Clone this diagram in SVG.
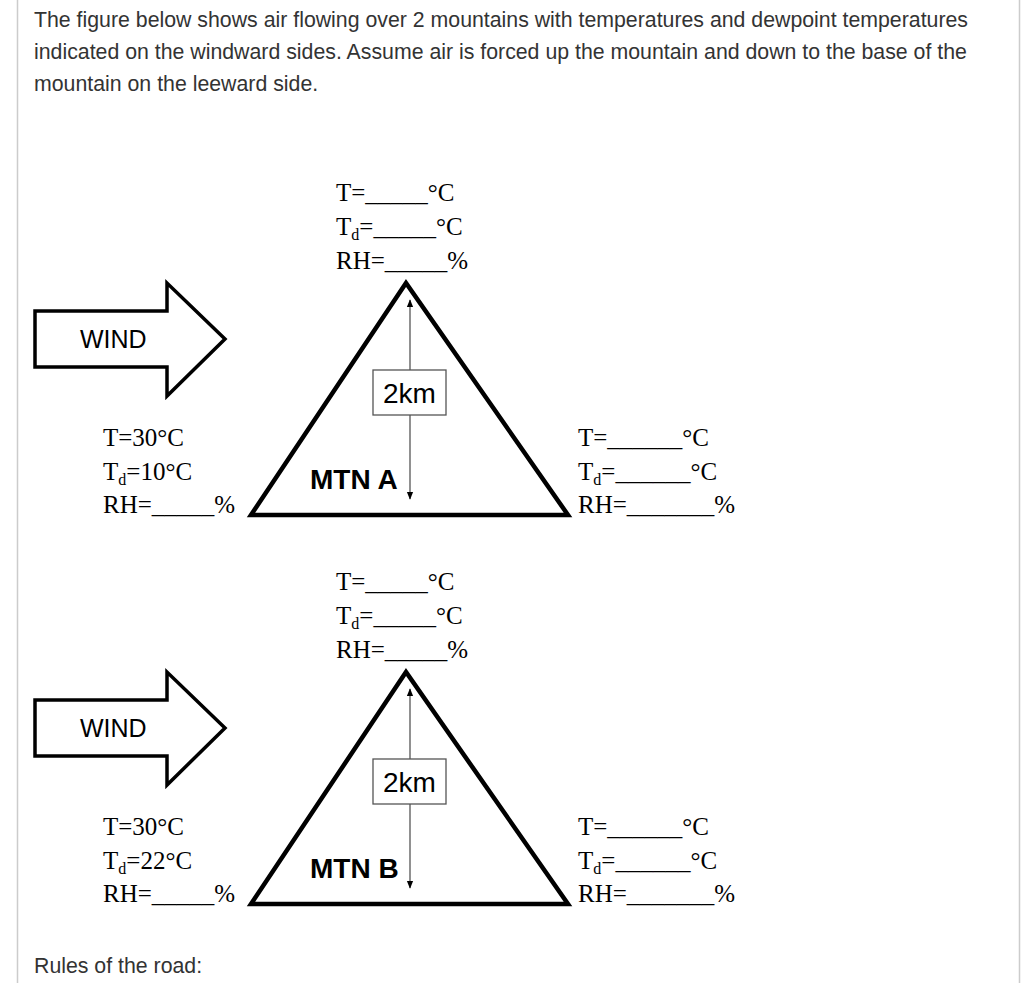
<svg xmlns="http://www.w3.org/2000/svg" width="1024" height="983" viewBox="0 0 1024 983">
<style>
.h{font-family:"Liberation Sans",Arial,sans-serif;font-size:21.3px;fill:#333}
.s{font-family:"Liberation Serif","Times New Roman",serif;font-size:25px;fill:#000}
.a{font-family:"Liberation Sans",Arial,sans-serif;font-size:25px;fill:#000}
.k{font-family:"Liberation Sans",Arial,sans-serif;font-size:28px;fill:#000}
.b{font-family:"Liberation Sans",Arial,sans-serif;font-size:28px;font-weight:bold;fill:#000}
.sub{font-size:16px}
.mt{fill:#fff;stroke:#000;stroke-width:4.5;stroke-linejoin:miter}
.ar{fill:#fff;stroke:#000;stroke-width:3.5}
.dim{stroke:#555;stroke-width:1.3}
</style>
<defs>
<marker id="ah" viewBox="0 0 10 10" refX="9" refY="5" markerWidth="6" markerHeight="7" orient="auto"><path d="M0,1 L10,5 L0,9 Z" fill="#000"/></marker>
</defs>
<rect width="1024" height="983" fill="#fff"/>
<line x1="17.5" y1="0" x2="17.5" y2="983" stroke="#ccc" stroke-width="1.5"/>
<line x1="1019.5" y1="0" x2="1019.5" y2="983" stroke="#ccc" stroke-width="1.5"/>
<g id="header">
<text class="h" x="34" y="27">The figure below shows air flowing over 2 mountains with temperatures and dewpoint temperatures</text>
<text class="h" x="34" y="59">indicated on the windward sides. Assume air is forced up the mountain and down to the base of the</text>
<text class="h" x="34" y="91">mountain on the leeward side.</text>
</g>
<g id="mtnA">
<polygon class="ar" points="35,311 167,311 167,283 225,339 167,396 167,367 35,367"/>
<text class="a" x="80" y="348">WIND</text>
<polygon class="mt" points="406,283 251,515 568,515"/>
<line class="dim" x1="410" y1="370" x2="410" y2="300" marker-end="url(#ah)"/>
<line class="dim" x1="410" y1="415" x2="410" y2="499" marker-end="url(#ah)"/>
<rect x="373" y="370" width="73" height="45" fill="#fff" stroke="#555" stroke-width="1.3"/>
<text class="k" x="409.5" y="403" text-anchor="middle">2km</text>
<text class="s" x="336" y="201">T=_____°C</text>
<text class="s" x="336" y="235">T<tspan class="sub" dy="5">d</tspan><tspan dy="-5">=_____°C</tspan></text>
<text class="s" x="336" y="269">RH=_____%</text>
<text class="s" x="103" y="446">T=30°C</text>
<text class="s" x="103" y="480">T<tspan class="sub" dy="5">d</tspan><tspan dy="-5">=10°C</tspan></text>
<text class="s" x="103" y="513">RH=_____%</text>
<text class="s" x="578" y="446">T=______°C</text>
<text class="s" x="578" y="480">T<tspan class="sub" dy="5">d</tspan><tspan dy="-5">=______°C</tspan></text>
<text class="s" x="578" y="513">RH=_______%</text>
<text class="b" x="310" y="489">MTN A</text>
</g>
<g id="mtnB" transform="translate(0,389)">
<polygon class="ar" points="35,311 167,311 167,283 225,339 167,396 167,367 35,367"/>
<text class="a" x="80" y="348">WIND</text>
<polygon class="mt" points="406,283 251,515 568,515"/>
<line class="dim" x1="410" y1="370" x2="410" y2="300" marker-end="url(#ah)"/>
<line class="dim" x1="410" y1="415" x2="410" y2="499" marker-end="url(#ah)"/>
<rect x="373" y="370" width="73" height="45" fill="#fff" stroke="#555" stroke-width="1.3"/>
<text class="k" x="409.5" y="403" text-anchor="middle">2km</text>
<text class="s" x="336" y="201">T=_____°C</text>
<text class="s" x="336" y="235">T<tspan class="sub" dy="5">d</tspan><tspan dy="-5">=_____°C</tspan></text>
<text class="s" x="336" y="269">RH=_____%</text>
<text class="s" x="103" y="446">T=30°C</text>
<text class="s" x="103" y="480">T<tspan class="sub" dy="5">d</tspan><tspan dy="-5">=22°C</tspan></text>
<text class="s" x="103" y="513">RH=_____%</text>
<text class="s" x="578" y="446">T=______°C</text>
<text class="s" x="578" y="480">T<tspan class="sub" dy="5">d</tspan><tspan dy="-5">=______°C</tspan></text>
<text class="s" x="578" y="513">RH=_______%</text>
<text class="b" x="310" y="489">MTN B</text>
</g>
<text class="h" x="34" y="973">Rules of the road:</text>
</svg>
